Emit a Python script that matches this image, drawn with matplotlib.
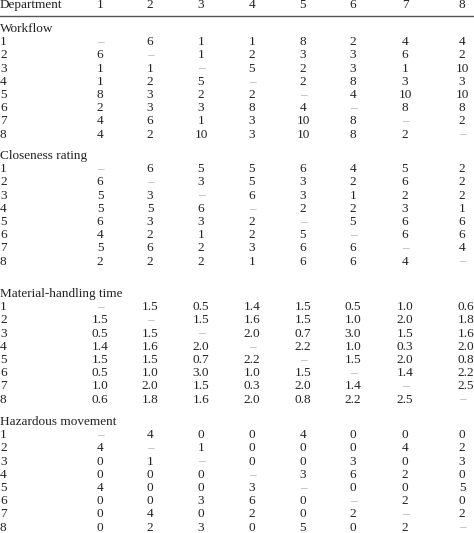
import matplotlib
matplotlib.use("Agg")
import matplotlib.pyplot as plt

departments = ["1", "2", "3", "4", "5", "6", "7", "8"]
D = None
workflow = [
    [D, 6, 1, 1, 8, 2, 4, 4],
    [6, D, 1, 2, 3, 3, 6, 2],
    [1, 1, D, 5, 2, 3, 1, 10],
    [1, 2, 5, D, 2, 8, 3, 3],
    [8, 3, 2, 2, D, 4, 10, 10],
    [2, 3, 3, 8, 4, D, 8, 8],
    [4, 6, 1, 3, 10, 8, D, 2],
    [4, 2, 10, 3, 10, 8, 2, D],
]
closeness = [
    [D, 6, 5, 5, 6, 4, 5, 2],
    [6, D, 3, 5, 3, 2, 6, 2],
    [5, 3, D, 6, 3, 1, 2, 2],
    [5, 5, 6, D, 2, 2, 3, 1],
    [6, 3, 3, 2, D, 5, 6, 6],
    [4, 2, 1, 2, 5, D, 6, 6],
    [5, 6, 2, 3, 6, 6, D, 4],
    [2, 2, 2, 1, 6, 6, 4, D],
]
handling = [
    [D, 1.5, 0.5, 1.4, 1.5, 0.5, 1.0, 0.6],
    [1.5, D, 1.5, 1.6, 1.5, 1.0, 2.0, 1.8],
    [0.5, 1.5, D, 2.0, 0.7, 3.0, 1.5, 1.6],
    [1.4, 1.6, 2.0, D, 2.2, 1.0, 0.3, 2.0],
    [1.5, 1.5, 0.7, 2.2, D, 1.5, 2.0, 0.8],
    [0.5, 1.0, 3.0, 1.0, 1.5, D, 1.4, 2.2],
    [1.0, 2.0, 1.5, 0.3, 2.0, 1.4, D, 2.5],
    [0.6, 1.8, 1.6, 2.0, 0.8, 2.2, 2.5, D],
]
hazard = [
    [D, 4, 0, 0, 4, 0, 0, 0],
    [4, D, 1, 0, 0, 0, 4, 2],
    [0, 1, D, 0, 0, 3, 0, 3],
    [0, 0, 0, D, 3, 6, 2, 0],
    [4, 0, 0, 3, D, 0, 0, 5],
    [0, 0, 3, 6, 0, D, 2, 0],
    [0, 4, 0, 2, 0, 2, D, 2],
    [0, 2, 3, 0, 5, 0, 2, D],
]
sections = [
    ("Workflow", workflow, 29, "{:d}"),
    ("Closeness rating", closeness, 156, "{:d}"),
    ("Material-handling time", handling, 294, "{:.1f}"),
    ("Hazardous movement", hazard, 422, "{:d}"),
]

W, H = 474, 533
fig = plt.figure(figsize=(W / 100, H / 100), dpi=100)
fig.patch.set_facecolor("white")
FONT = "Liberation Serif"
FS = 9.5
COLOR = "#222222"
col_x = [100, 150, 201, 252, 303, 353, 405, 462]
step = 13.2

def put(x, y, s, ha="center", color=COLOR):
    fig.text(x / W, 1 - y / H, s, ha=ha, va="center", fontsize=FS,
             family=FONT, color=color)

put(0, 5, "Department", ha="left")
for x, d in zip(col_x, departments):
    put(x, 5, d)
fig.add_artist(plt.Line2D([0, 1], [1 - 16 / H] * 2, color="#555555", lw=1.0,
                          transform=fig.transFigure))

for title, data, y0, fmt in sections:
    put(0, y0, title, ha="left")
    for i, row in enumerate(data):
        y = y0 + (i + 1) * step
        put(0, y, departments[i], ha="left")
        for j, v in enumerate(row):
            if v is None:
                put(col_x[j], y, "–", color="#aaaaaa")
            else:
                xx = col_x[j] + (4 if (fmt == "{:.1f}" and j == 7) else 0)
                put(xx, y, fmt.format(v))

fig.savefig("out.png", dpi=100, facecolor="white")
